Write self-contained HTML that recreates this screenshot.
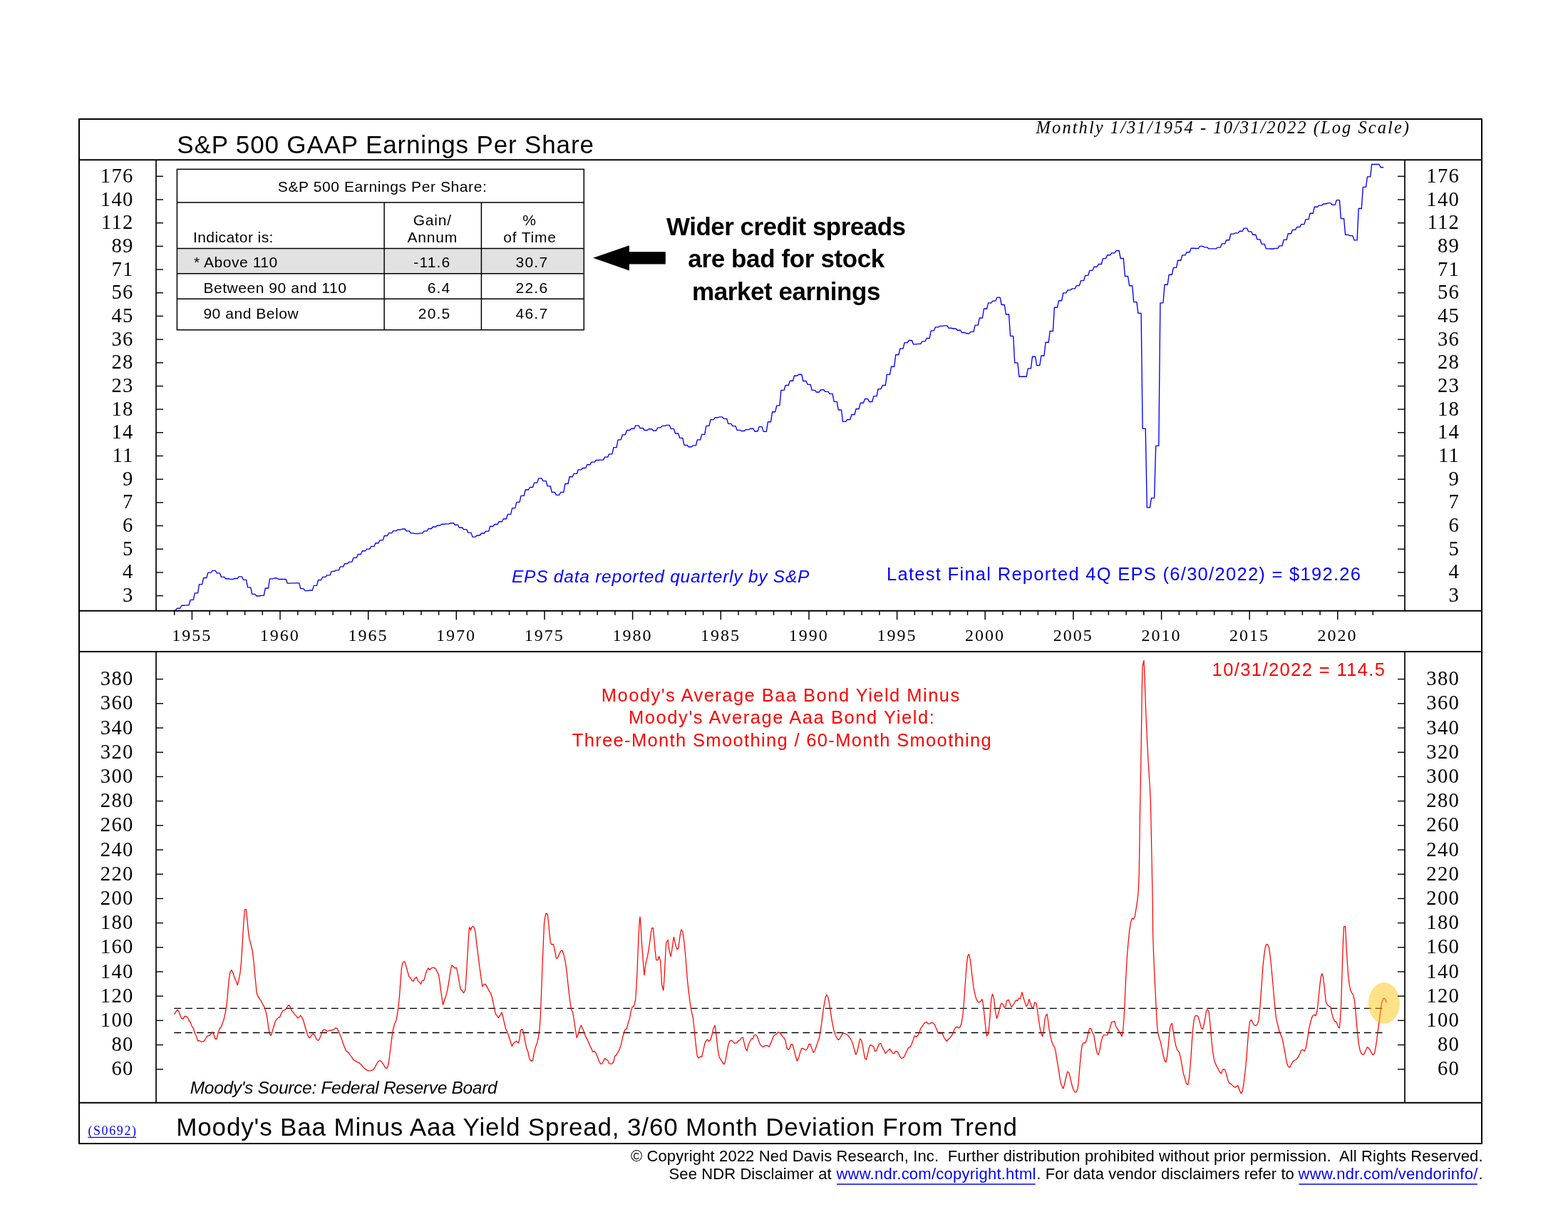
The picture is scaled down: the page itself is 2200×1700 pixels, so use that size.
<!DOCTYPE html>
<html lang="en"><head><meta charset="utf-8"><title>S&amp;P 500 GAAP Earnings Per Share vs Moody's Baa Minus Aaa Yield Spread</title>
<style>html,body{margin:0;padding:0;background:#fff}body{width:2200px;height:1700px;overflow:hidden}svg{display:block}text{white-space:pre}</style>
</head><body>
<svg width="2200" height="1700" viewBox="0 0 2200 1700">
<rect x="0" y="0" width="2200" height="1700" fill="#fff"/>
<path d="M244.4,856.0 L246.4,856.0 L248.6,853.2 L252.7,853.2 L254.8,849.2 L258.9,849.2 L261.0,848.8 L265.1,848.8 L267.2,841.4 L271.3,841.4 L273.3,831.9 L277.5,831.9 L279.5,819.6 L283.6,819.6 L285.7,810.5 L289.8,810.5 L291.9,803.1 L296.0,803.1 L298.1,800.4 L302.2,800.4 L304.3,803.9 L308.4,803.9 L310.4,809.3 L314.6,809.3 L316.6,811.7 L320.8,811.7 L322.8,812.3 L326.9,812.3 L329.0,811.5 L333.1,811.5 L335.2,808.9 L339.3,808.9 L341.4,813.3 L345.5,813.3 L347.6,823.8 L351.7,823.8 L353.7,833.3 L357.9,833.3 L359.9,836.0 L364.1,836.0 L366.1,835.4 L370.2,835.4 L372.3,825.0 L376.4,825.0 L378.5,811.9 L382.6,811.9 L384.7,811.0 L388.8,811.0 L390.9,812.5 L395.0,812.5 L397.0,812.5 L401.2,812.5 L403.2,818.1 L407.3,818.1 L409.4,817.9 L413.5,817.9 L415.6,817.9 L419.7,817.9 L421.8,825.6 L425.9,825.6 L428.0,828.6 L432.1,828.6 L434.1,828.0 L438.3,828.0 L440.3,821.4 L444.5,821.4 L446.5,813.5 L450.6,813.5 L452.7,809.3 L456.8,809.3 L458.9,806.8 L463.0,806.8 L465.1,801.4 L469.2,801.4 L471.3,799.8 L475.4,799.8 L477.4,794.9 L481.6,794.9 L483.6,790.5 L487.8,790.5 L489.8,788.1 L493.9,788.1 L496.0,782.4 L500.1,782.4 L502.2,777.5 L506.3,777.5 L508.4,772.7 L512.5,772.7 L514.6,770.1 L518.7,770.1 L520.7,766.4 L524.9,766.4 L526.9,761.7 L531.0,761.7 L533.1,757.6 L537.2,757.6 L539.3,751.5 L543.4,751.5 L545.5,747.6 L549.6,747.6 L551.7,744.6 L555.8,744.6 L557.9,743.0 L562.0,743.0 L564.0,742.0 L568.2,742.0 L570.2,744.8 L574.3,744.8 L576.4,747.9 L580.5,747.9 L582.6,748.6 L586.7,748.6 L588.8,747.9 L592.9,747.9 L595.0,744.8 L599.1,744.8 L601.1,741.5 L605.3,741.5 L607.3,739.0 L611.5,739.0 L613.5,737.0 L617.6,737.0 L619.7,735.2 L623.8,735.2 L625.9,734.9 L630.0,734.9 L632.1,733.7 L636.2,733.7 L638.3,736.2 L642.4,736.2 L644.4,740.0 L648.6,740.0 L650.6,742.6 L654.7,742.6 L656.8,747.1 L660.9,747.1 L663.0,753.1 L667.1,753.1 L669.2,751.0 L673.3,751.0 L675.4,748.0 L679.5,748.0 L681.5,745.1 L685.7,745.1 L687.7,738.2 L691.9,738.2 L693.9,735.5 L698.0,735.5 L700.1,731.7 L704.2,731.7 L706.3,727.7 L710.4,727.7 L712.5,721.3 L716.6,721.3 L718.7,712.6 L722.8,712.6 L724.8,704.3 L729.0,704.3 L731.0,695.4 L735.2,695.4 L737.2,687.0 L741.3,687.0 L743.4,683.5 L747.5,683.5 L749.6,677.1 L753.7,677.1 L755.8,670.8 L759.9,670.8 L762.0,674.6 L766.1,674.6 L768.1,681.8 L772.3,681.8 L774.3,690.5 L778.4,690.5 L780.5,694.3 L784.6,694.3 L786.7,690.5 L790.8,690.5 L792.9,678.5 L797.0,678.5 L799.1,668.7 L803.2,668.7 L805.2,664.3 L809.4,664.3 L811.4,658.8 L815.6,658.8 L817.6,656.5 L821.7,656.5 L823.8,651.7 L827.9,651.7 L830.0,648.1 L834.1,648.1 L836.2,645.5 L840.3,645.5 L842.4,645.1 L846.5,645.1 L848.5,641.1 L852.7,641.1 L854.7,636.9 L858.9,636.9 L860.9,627.6 L865.0,627.6 L867.1,616.9 L871.2,616.9 L873.3,609.8 L877.4,609.8 L879.5,603.5 L883.6,603.5 L885.7,601.2 L889.8,601.2 L891.8,596.9 L896.0,596.9 L898.0,600.5 L902.1,600.5 L904.2,603.5 L908.3,603.5 L910.4,601.7 L914.5,601.7 L916.6,604.0 L920.7,604.0 L922.8,599.9 L926.9,599.9 L928.9,597.3 L933.1,597.3 L935.1,596.3 L939.3,596.3 L941.3,601.4 L945.4,601.4 L947.5,608.0 L951.6,608.0 L953.7,614.3 L957.8,614.3 L959.9,624.3 L964.0,624.3 L966.1,626.7 L970.2,626.7 L972.2,624.9 L976.4,624.9 L978.4,616.9 L982.6,616.9 L984.6,609.4 L988.7,609.4 L990.8,597.3 L994.9,597.3 L997.0,588.6 L1001.1,588.6 L1003.2,585.7 L1007.3,585.7 L1009.4,584.9 L1013.5,584.9 L1015.5,587.3 L1019.7,587.3 L1021.7,594.4 L1025.8,594.4 L1027.9,597.6 L1032.0,597.6 L1034.1,603.3 L1038.2,603.3 L1040.3,604.5 L1044.4,604.5 L1046.5,602.6 L1050.6,602.6 L1052.6,601.2 L1056.8,601.2 L1058.8,605.0 L1063.0,605.0 L1065.0,598.6 L1069.1,598.6 L1071.2,605.4 L1075.3,605.4 L1077.4,591.7 L1081.5,591.7 L1083.6,577.7 L1087.7,577.7 L1089.8,568.8 L1093.9,568.8 L1095.9,547.4 L1100.1,547.4 L1102.1,540.5 L1106.3,540.5 L1108.3,534.2 L1112.4,534.2 L1114.5,527.0 L1118.6,527.0 L1120.7,525.2 L1124.8,525.2 L1126.9,534.5 L1131.0,534.5 L1133.1,539.3 L1137.2,539.3 L1139.2,547.3 L1143.4,547.3 L1145.4,550.0 L1149.5,550.0 L1151.6,546.7 L1155.7,546.7 L1157.8,549.4 L1161.9,549.4 L1164.0,552.4 L1168.1,552.4 L1170.2,563.3 L1174.3,563.3 L1176.3,575.0 L1180.5,575.0 L1182.5,591.3 L1186.7,591.3 L1188.7,588.5 L1192.8,588.5 L1194.9,581.5 L1199.0,581.5 L1201.1,573.5 L1205.2,573.5 L1207.3,565.2 L1211.4,565.2 L1213.5,559.5 L1217.6,559.5 L1219.6,563.5 L1223.8,563.5 L1225.8,555.6 L1230.0,555.6 L1232.0,545.6 L1236.1,545.6 L1238.2,540.5 L1242.3,540.5 L1244.4,525.4 L1248.5,525.4 L1250.6,514.2 L1254.7,514.2 L1256.8,497.5 L1260.9,497.5 L1262.9,488.9 L1267.1,488.9 L1269.1,480.6 L1273.2,480.6 L1275.3,477.5 L1279.4,477.5 L1281.5,482.9 L1285.6,482.9 L1287.7,482.4 L1291.8,482.4 L1293.9,478.8 L1298.0,478.8 L1300.0,474.5 L1304.2,474.5 L1306.2,463.8 L1310.4,463.8 L1312.4,458.8 L1316.5,458.8 L1318.6,457.4 L1322.7,457.4 L1324.8,456.8 L1328.9,456.8 L1331.0,460.2 L1335.1,460.2 L1337.2,461.0 L1341.3,461.0 L1343.3,463.2 L1347.5,463.2 L1349.5,466.5 L1353.7,466.5 L1355.7,467.7 L1359.8,467.7 L1361.9,465.4 L1366.0,465.4 L1368.1,456.1 L1372.2,456.1 L1374.3,446.0 L1378.4,446.0 L1380.5,433.0 L1384.6,433.0 L1386.6,424.9 L1390.8,424.9 L1392.8,422.1 L1396.9,422.1 L1399.0,417.1 L1403.1,417.1 L1405.2,427.5 L1409.3,427.5 L1411.4,441.0 L1415.5,441.0 L1417.6,471.3 L1421.7,471.3 L1423.7,508.8 L1427.9,508.8 L1429.9,528.2 L1434.1,528.2 L1436.1,528.2 L1440.2,528.2 L1442.3,516.9 L1446.4,516.9 L1448.5,500.2 L1452.6,500.2 L1454.7,512.6 L1458.8,512.6 L1460.9,499.0 L1465.0,499.0 L1467.0,480.2 L1471.2,480.2 L1473.2,464.5 L1477.4,464.5 L1479.4,431.2 L1483.5,431.2 L1485.6,421.7 L1489.7,421.7 L1491.8,410.8 L1495.9,410.8 L1498.0,406.8 L1502.1,406.8 L1504.2,404.8 L1508.3,404.8 L1510.3,400.6 L1514.5,400.6 L1516.5,393.6 L1520.6,393.6 L1522.7,386.4 L1526.8,386.4 L1528.9,379.3 L1533.0,379.3 L1535.1,374.2 L1539.2,374.2 L1541.3,370.5 L1545.4,370.5 L1547.4,362.6 L1551.6,362.6 L1553.6,357.7 L1557.8,357.7 L1559.8,354.8 L1563.9,354.8 L1566.0,351.5 L1570.1,351.5 L1572.2,362.5 L1576.3,362.5 L1578.4,387.5 L1582.5,387.5 L1584.6,400.7 L1588.7,400.7 L1590.7,423.6 L1594.9,423.6 L1596.9,439.4 L1601.1,439.4 L1603.1,601.1 L1607.2,601.1 L1609.3,711.8 L1613.4,711.8 L1615.5,698.6 L1619.6,698.6 L1621.7,625.3 L1625.8,625.3 L1627.9,424.8 L1632.0,424.8 L1634.0,399.2 L1638.2,399.2 L1640.2,385.2 L1644.3,385.2 L1646.4,375.4 L1650.5,375.4 L1652.6,365.2 L1656.7,365.2 L1658.8,357.9 L1662.9,357.9 L1665.0,353.7 L1669.1,353.7 L1671.1,348.2 L1675.3,348.2 L1677.3,348.5 L1681.5,348.5 L1683.5,345.4 L1687.6,345.4 L1689.7,346.8 L1693.8,346.8 L1695.9,348.9 L1700.0,348.9 L1702.1,348.9 L1706.2,348.9 L1708.3,347.1 L1712.4,347.1 L1714.4,341.8 L1718.6,341.8 L1720.6,336.7 L1724.8,336.7 L1726.8,328.1 L1730.9,328.1 L1733.0,326.9 L1737.1,326.9 L1739.2,324.2 L1743.3,324.2 L1745.4,320.1 L1749.5,320.1 L1751.6,324.8 L1755.7,324.8 L1757.7,329.2 L1761.9,329.2 L1763.9,335.8 L1768.0,335.8 L1770.1,342.4 L1774.2,342.4 L1776.3,348.8 L1780.4,348.8 L1782.5,349.0 L1786.6,349.0 L1788.7,348.3 L1792.8,348.3 L1794.8,344.8 L1799.0,344.8 L1801.0,336.4 L1805.2,336.4 L1807.2,327.7 L1811.3,327.7 L1813.4,322.4 L1817.5,322.4 L1819.6,318.5 L1823.7,318.5 L1825.8,314.6 L1829.9,314.6 L1832.0,307.6 L1836.1,307.6 L1838.1,299.2 L1842.3,299.2 L1844.3,290.2 L1848.5,290.2 L1850.5,288.1 L1854.6,288.1 L1856.7,286.0 L1860.8,286.0 L1862.9,284.8 L1867.0,284.8 L1869.1,287.4 L1873.2,287.4 L1875.3,280.6 L1879.4,280.6 L1881.4,306.6 L1885.6,306.6 L1887.6,329.3 L1891.7,329.3 L1893.8,330.6 L1897.9,330.6 L1900.0,336.9 L1904.1,336.9 L1906.2,292.5 L1910.3,292.5 L1912.4,262.3 L1916.5,262.3 L1918.5,247.9 L1922.7,247.9 L1924.7,230.5 L1928.9,230.5 L1930.9,230.5 L1935.0,230.5 L1937.1,234.7 L1941.2,234.7" fill="none" stroke="#0000ff" stroke-width="1.35" stroke-linejoin="round"/>
<line x1="244.3" y1="1414.4" x2="1939.6" y2="1414.4" stroke="#000" stroke-width="1.3" stroke-dasharray="9.85 5.901"/>
<line x1="244.3" y1="1448.5" x2="1939.6" y2="1448.5" stroke="#000" stroke-width="1.3" stroke-dasharray="9.85 5.901"/>
<path d="M244.4,1422.9 L246.8,1419.2 L248.9,1416.5 L250.6,1418.2 L252.5,1423.3 L254.6,1428.7 L257.0,1429.1 L258.8,1425.6 L260.7,1425.3 L263.2,1427.0 L265.2,1431.5 L267.3,1434.2 L269.3,1439.6 L271.3,1442.0 L273.4,1449.2 L275.7,1453.9 L277.5,1460.1 L279.5,1459.4 L281.6,1460.8 L283.9,1461.3 L285.9,1460.5 L288.0,1457.8 L290.1,1453.9 L292.5,1452.6 L294.5,1451.9 L296.5,1449.6 L298.3,1447.5 L300.0,1451.2 L302.0,1457.4 L304.0,1457.4 L306.1,1448.5 L308.1,1443.0 L310.2,1440.7 L312.2,1435.6 L314.5,1428.1 L316.3,1419.9 L317.7,1411.7 L319.0,1399.4 L320.4,1383.1 L321.3,1373.6 L322.7,1364.0 L324.8,1360.6 L326.8,1364.0 L328.8,1370.8 L331.0,1375.6 L333.1,1381.7 L335.0,1374.9 L337.0,1364.0 L338.4,1350.4 L340.1,1323.1 L341.5,1300.0 L343.3,1275.7 L345.3,1275.5 L346.7,1287.7 L348.3,1305.4 L349.7,1316.3 L352.0,1324.5 L354.2,1334.0 L356.1,1350.4 L357.9,1369.5 L359.5,1385.8 L359.9,1392.0 L362.0,1397.4 L364.0,1401.1 L366.0,1403.3 L368.1,1407.6 L370.8,1412.4 L372.9,1418.5 L374.9,1428.1 L376.9,1442.4 L378.3,1450.5 L380.3,1452.3 L382.4,1445.8 L384.4,1439.0 L386.5,1432.1 L388.5,1429.4 L390.6,1427.4 L392.6,1426.4 L394.7,1421.2 L397.0,1417.4 L399.4,1416.5 L401.5,1414.7 L403.5,1411.7 L405.3,1409.7 L407.2,1412.4 L409.2,1417.8 L411.3,1419.6 L413.3,1422.6 L415.8,1425.1 L417.8,1428.1 L419.9,1426.4 L421.6,1424.4 L423.5,1426.4 L425.6,1431.5 L427.8,1439.0 L429.8,1445.8 L431.9,1452.6 L433.8,1455.6 L435.5,1455.0 L437.6,1451.2 L439.6,1449.9 L441.7,1452.6 L443.7,1456.9 L445.8,1459.4 L447.4,1458.7 L449.4,1454.6 L451.2,1449.9 L452.6,1445.8 L454.6,1444.1 L456.7,1444.7 L458.7,1446.5 L460.7,1446.0 L462.8,1445.1 L464.8,1445.4 L466.9,1444.7 L468.9,1443.7 L471.2,1441.7 L473.3,1443.0 L475.3,1447.1 L477.4,1451.9 L479.4,1457.4 L481.4,1463.5 L483.5,1468.9 L485.5,1473.7 L487.6,1475.5 L489.6,1477.1 L491.7,1480.5 L493.7,1483.2 L495.8,1486.4 L497.2,1487.2 L500.4,1489.1 L504.4,1491.1 L507.6,1494.3 L510.8,1497.9 L514.0,1500.6 L517.2,1501.9 L520.4,1501.6 L523.6,1500.3 L526.0,1497.1 L528.4,1492.3 L530.8,1488.8 L532.9,1487.5 L535.3,1489.1 L538.0,1493.1 L541.2,1498.4 L543.6,1497.9 L545.2,1491.5 L546.8,1479.5 L548.4,1466.7 L550.0,1453.9 L551.6,1443.5 L553.5,1436.3 L555.3,1433.2 L557.2,1424.4 L559.1,1410.8 L560.7,1394.8 L562.0,1375.6 L563.3,1358.8 L564.9,1350.8 L566.5,1348.9 L568.1,1349.2 L569.7,1354.8 L571.6,1362.0 L574.0,1370.0 L575.6,1371.1 L577.7,1374.8 L579.9,1376.4 L582.0,1372.4 L584.4,1370.4 L586.3,1375.6 L588.4,1377.5 L590.4,1380.4 L592.4,1375.6 L594.8,1375.2 L596.8,1367.6 L598.8,1361.5 L600.8,1357.7 L602.8,1360.4 L605.2,1358.0 L607.9,1357.2 L611.1,1358.3 L613.2,1362.8 L615.6,1367.6 L616.8,1375.6 L618.4,1388.4 L620.0,1399.6 L621.6,1409.2 L623.6,1402.8 L625.6,1397.2 L627.6,1389.2 L629.5,1378.8 L631.2,1367.6 L632.8,1358.0 L634.0,1354.0 L636.4,1356.1 L638.4,1358.0 L640.0,1356.9 L641.6,1362.0 L643.2,1370.8 L644.8,1380.4 L646.4,1388.0 L648.4,1389.2 L650.4,1392.8 L652.7,1389.2 L653.5,1380.4 L654.7,1361.2 L656.0,1338.8 L657.3,1316.4 L658.4,1301.2 L659.5,1301.2 L660.3,1304.9 L661.9,1300.7 L663.5,1299.1 L665.1,1300.7 L667.1,1308.4 L668.3,1319.6 L669.9,1332.4 L671.5,1345.2 L673.1,1358.0 L674.7,1369.2 L676.7,1383.6 L678.7,1380.8 L681.1,1380.4 L683.2,1383.9 L685.9,1389.2 L688.3,1392.8 L689.9,1397.2 L691.9,1406.0 L693.6,1414.8 L695.5,1422.4 L697.1,1424.4 L699.5,1427.6 L701.9,1423.6 L703.9,1420.0 L705.6,1425.2 L707.5,1434.7 L709.5,1442.7 L711.5,1446.7 L713.5,1452.3 L715.5,1458.7 L718.4,1467.5 L720.3,1463.2 L722.7,1461.6 L724.8,1460.3 L727.0,1463.2 L728.8,1458.7 L730.4,1445.1 L732.8,1443.5 L734.7,1449.1 L736.8,1461.1 L738.7,1469.9 L740.8,1475.2 L741.9,1481.1 L743.2,1485.9 L745.6,1488.3 L747.5,1487.5 L749.1,1477.9 L751.2,1469.1 L753.6,1462.7 L755.5,1454.7 L757.1,1442.7 L758.4,1423.6 L759.2,1402.8 L760.3,1374.0 L761.3,1346.8 L762.4,1322.8 L763.5,1295.6 L764.8,1286.0 L766.1,1280.9 L768.3,1282.5 L769.6,1294.0 L770.9,1308.4 L772.3,1322.0 L773.9,1324.9 L776.5,1324.4 L778.4,1333.2 L780.5,1344.1 L782.4,1343.6 L784.8,1338.0 L786.9,1333.7 L788.8,1333.2 L790.9,1338.8 L793.1,1348.4 L795.2,1362.8 L796.8,1378.8 L798.4,1393.2 L800.0,1406.0 L801.6,1416.4 L803.5,1419.6 L805.3,1430.0 L807.2,1443.5 L809.3,1455.5 L811.2,1450.7 L813.3,1442.7 L815.5,1438.3 L817.3,1442.7 L819.5,1447.5 L821.6,1453.9 L824.0,1457.9 L826.4,1463.5 L828.8,1469.1 L832.0,1475.5 L834.1,1474.4 L836.5,1477.9 L838.8,1483.5 L840.8,1489.5 L842.8,1492.3 L845.1,1491.5 L846.8,1487.9 L848.8,1484.3 L850.4,1486.3 L852.4,1486.7 L854.4,1491.1 L856.4,1492.3 L858.8,1492.0 L860.8,1489.5 L862.8,1481.1 L864.8,1479.9 L867.2,1475.5 L869.2,1471.9 L871.2,1465.9 L873.1,1457.1 L874.8,1450.7 L876.8,1444.3 L879.2,1443.1 L881.2,1435.5 L883.5,1428.4 L885.2,1418.8 L887.2,1412.4 L889.6,1411.1 L891.6,1402.0 L892.8,1385.2 L893.9,1366.0 L894.8,1342.0 L896.0,1313.2 L897.1,1294.0 L898.0,1286.0 L899.2,1300.4 L900.4,1322.8 L901.9,1342.0 L903.2,1359.6 L904.0,1367.6 L905.5,1354.8 L907.1,1346.8 L908.7,1340.4 L910.3,1330.8 L911.9,1319.6 L913.5,1308.4 L914.7,1301.5 L916.4,1301.5 L917.5,1313.2 L919.1,1332.4 L920.7,1346.5 L923.1,1346.5 L924.7,1341.5 L926.7,1348.4 L927.6,1362.8 L928.7,1382.0 L930.8,1389.2 L931.9,1374.0 L933.1,1350.0 L934.0,1332.4 L934.8,1322.0 L937.1,1318.5 L938.3,1329.2 L939.6,1335.6 L941.2,1341.5 L942.8,1332.4 L944.3,1321.2 L945.5,1314.3 L946.8,1321.2 L948.4,1327.6 L950.0,1331.6 L951.9,1330.0 L953.2,1319.6 L954.3,1310.8 L955.9,1303.9 L958.0,1307.1 L959.5,1318.0 L961.2,1334.0 L962.8,1353.2 L964.4,1374.0 L966.3,1391.6 L968.4,1407.6 L970.3,1418.8 L972.4,1428.4 L974.0,1442.7 L975.6,1458.7 L977.2,1473.1 L978.3,1481.5 L980.4,1484.0 L982.6,1481.9 L984.7,1482.4 L986.8,1473.1 L988.7,1464.3 L990.0,1461.1 L992.4,1457.9 L994.5,1460.3 L996.7,1458.7 L998.8,1452.3 L1000.9,1442.7 L1003.1,1438.3 L1004.4,1447.5 L1006.0,1461.9 L1007.6,1474.7 L1009.2,1482.7 L1011.6,1486.7 L1014.0,1490.4 L1015.6,1492.8 L1017.2,1490.4 L1018.8,1482.7 L1020.4,1473.1 L1022.0,1465.1 L1023.9,1460.0 L1026.0,1459.2 L1027.9,1460.3 L1030.0,1463.2 L1032.4,1463.2 L1034.5,1461.9 L1036.4,1459.5 L1038.5,1458.7 L1040.4,1455.5 L1042.3,1455.1 L1043.9,1461.9 L1046.0,1470.7 L1048.1,1473.9 L1050.0,1465.9 L1052.4,1460.3 L1054.5,1456.7 L1056.4,1457.1 L1058.0,1452.3 L1059.9,1451.2 L1062.0,1453.1 L1063.6,1457.1 L1065.2,1461.9 L1067.1,1465.9 L1069.2,1467.9 L1071.3,1468.3 L1073.2,1466.7 L1075.6,1466.4 L1077.5,1467.1 L1079.3,1468.3 L1081.2,1463.5 L1083.3,1458.7 L1085.5,1452.7 L1087.9,1451.5 L1090.0,1449.9 L1091.9,1447.5 L1094.0,1449.1 L1095.9,1450.7 L1098.0,1453.9 L1100.0,1455.9 L1102.0,1459.5 L1103.9,1469.9 L1106.0,1472.3 L1107.9,1470.7 L1110.0,1464.8 L1111.9,1464.7 L1114.0,1472.3 L1116.0,1480.3 L1118.4,1488.3 L1120.4,1484.3 L1122.4,1477.1 L1124.7,1470.3 L1126.8,1470.7 L1128.8,1472.0 L1130.8,1473.1 L1132.8,1470.7 L1134.8,1464.7 L1136.8,1464.3 L1138.8,1469.9 L1141.2,1476.3 L1143.1,1474.4 L1145.2,1468.3 L1147.6,1461.1 L1149.5,1455.5 L1151.2,1445.9 L1153.2,1431.6 L1155.1,1417.2 L1157.1,1404.4 L1158.7,1397.2 L1159.9,1395.2 L1161.5,1398.0 L1163.5,1406.8 L1165.5,1420.4 L1167.5,1433.2 L1169.9,1445.1 L1172.3,1452.3 L1174.4,1456.3 L1176.3,1458.7 L1178.4,1456.8 L1180.3,1453.1 L1182.7,1449.1 L1185.1,1449.5 L1187.5,1450.7 L1189.9,1452.3 L1192.3,1455.5 L1194.7,1459.5 L1196.8,1465.1 L1198.7,1472.3 L1200.8,1479.2 L1202.7,1475.5 L1204.7,1465.9 L1206.7,1457.1 L1208.7,1459.1 L1210.4,1466.7 L1212.0,1476.3 L1213.5,1484.3 L1215.5,1486.3 L1217.1,1479.5 L1219.2,1469.9 L1221.4,1465.5 L1223.5,1466.7 L1225.6,1467.9 L1227.5,1474.4 L1229.6,1473.9 L1231.5,1469.1 L1233.6,1463.9 L1235.8,1463.5 L1237.9,1469.1 L1240.0,1472.3 L1242.1,1477.6 L1244.3,1475.2 L1246.4,1473.1 L1248.5,1471.2 L1250.4,1474.4 L1252.5,1477.1 L1254.4,1477.6 L1256.5,1474.4 L1258.7,1474.7 L1260.8,1477.9 L1262.9,1482.4 L1264.8,1484.7 L1266.9,1483.5 L1269.1,1481.6 L1271.2,1476.3 L1273.3,1471.9 L1275.2,1469.1 L1277.3,1468.3 L1279.2,1464.3 L1281.3,1458.4 L1283.2,1452.8 L1285.6,1454.3 L1288.0,1452.0 L1289.9,1448.3 L1291.7,1442.4 L1293.9,1439.9 L1296.0,1436.3 L1298.1,1434.0 L1300.0,1433.5 L1301.9,1435.5 L1304.0,1436.3 L1306.1,1434.7 L1308.0,1434.3 L1309.9,1435.5 L1312.0,1438.7 L1314.1,1443.5 L1316.3,1448.8 L1318.4,1449.5 L1320.5,1449.1 L1322.4,1449.9 L1324.3,1454.7 L1326.4,1458.3 L1328.5,1460.3 L1330.7,1457.5 L1332.8,1455.9 L1334.9,1453.1 L1337.1,1449.1 L1339.2,1443.5 L1341.2,1440.7 L1343.2,1440.3 L1345.2,1441.9 L1347.2,1440.3 L1349.1,1434.7 L1350.7,1425.2 L1352.0,1412.4 L1353.2,1394.8 L1354.4,1378.8 L1355.5,1362.8 L1356.8,1348.4 L1357.9,1340.7 L1359.6,1338.5 L1361.1,1345.2 L1362.4,1354.8 L1363.6,1366.0 L1364.8,1375.6 L1365.9,1384.4 L1367.2,1390.8 L1368.4,1396.4 L1369.9,1401.5 L1371.5,1404.4 L1373.6,1406.0 L1375.6,1404.8 L1377.9,1401.5 L1379.2,1407.6 L1380.4,1417.2 L1381.9,1431.6 L1383.2,1444.3 L1384.4,1453.1 L1386.4,1450.7 L1387.5,1442.7 L1388.8,1428.4 L1389.9,1412.4 L1390.8,1401.2 L1392.4,1394.4 L1394.4,1399.6 L1395.5,1409.2 L1396.8,1420.4 L1398.7,1428.4 L1400.4,1422.8 L1402.4,1415.6 L1404.0,1409.2 L1405.2,1407.1 L1407.1,1408.4 L1409.1,1413.2 L1410.8,1411.6 L1412.7,1403.6 L1415.1,1402.4 L1417.1,1407.6 L1419.1,1412.4 L1421.2,1410.3 L1423.5,1406.3 L1425.5,1402.8 L1427.6,1403.6 L1429.5,1400.0 L1431.6,1400.8 L1434.0,1391.6 L1435.5,1398.0 L1437.5,1404.4 L1439.9,1411.6 L1441.9,1409.2 L1443.9,1401.5 L1445.9,1407.6 L1447.9,1413.2 L1450.0,1413.2 L1451.9,1406.0 L1453.9,1406.8 L1455.1,1414.0 L1456.4,1423.6 L1458.0,1434.7 L1459.6,1444.3 L1461.2,1450.7 L1462.8,1453.6 L1464.4,1444.3 L1466.0,1430.0 L1467.1,1425.2 L1469.1,1422.3 L1470.3,1430.0 L1471.9,1442.7 L1473.5,1452.3 L1475.6,1460.3 L1477.5,1465.9 L1479.4,1468.3 L1481.0,1473.9 L1482.6,1484.3 L1484.2,1493.9 L1485.8,1503.5 L1487.4,1514.7 L1489.0,1521.1 L1491.6,1527.0 L1493.5,1521.1 L1495.6,1511.5 L1497.7,1503.2 L1499.6,1504.3 L1501.2,1509.9 L1502.8,1517.1 L1504.4,1523.5 L1506.0,1528.3 L1508.1,1532.0 L1510.0,1531.8 L1511.9,1527.5 L1513.2,1517.9 L1514.5,1501.9 L1515.9,1485.9 L1517.2,1473.1 L1518.5,1464.8 L1520.4,1462.7 L1522.5,1463.1 L1524.7,1458.7 L1526.5,1450.7 L1528.4,1443.1 L1530.5,1442.4 L1532.4,1447.5 L1534.8,1452.3 L1536.4,1461.9 L1538.0,1471.5 L1539.6,1477.6 L1541.2,1479.2 L1543.1,1472.3 L1544.9,1461.9 L1546.8,1454.7 L1548.9,1451.5 L1551.1,1451.9 L1553.5,1452.0 L1555.6,1447.5 L1557.7,1441.1 L1559.6,1433.5 L1562.0,1433.2 L1563.9,1432.4 L1565.5,1439.5 L1567.6,1442.7 L1569.5,1445.9 L1571.6,1449.1 L1574.0,1453.6 L1575.6,1445.9 L1577.2,1425.2 L1578.3,1401.2 L1579.3,1378.8 L1580.4,1358.0 L1581.7,1337.2 L1583.1,1321.2 L1584.7,1305.2 L1586.5,1294.0 L1588.4,1287.9 L1590.4,1289.2 L1592.7,1284.4 L1592.9,1281.6 L1594.4,1272.7 L1596.0,1261.6 L1597.3,1248.2 L1598.2,1226.0 L1598.9,1181.6 L1599.5,1137.2 L1600.4,1092.7 L1601.1,1048.3 L1601.8,1003.9 L1602.2,970.5 L1602.9,935.0 L1604.9,926.6 L1606.0,948.3 L1607.1,981.6 L1608.4,1015.0 L1610.0,1048.3 L1611.5,1075.0 L1613.3,1103.8 L1614.4,1126.1 L1615.1,1159.4 L1616.0,1203.8 L1616.6,1237.1 L1617.3,1270.5 L1617.6,1310.0 L1618.4,1334.0 L1619.2,1353.2 L1620.0,1372.4 L1621.2,1393.2 L1622.0,1410.8 L1622.8,1426.8 L1623.6,1439.5 L1624.8,1449.1 L1626.3,1455.5 L1628.4,1461.9 L1630.3,1471.5 L1632.0,1479.5 L1634.0,1487.5 L1635.9,1489.9 L1637.5,1482.7 L1639.1,1468.3 L1640.4,1453.9 L1641.6,1441.1 L1642.8,1437.1 L1644.4,1435.5 L1645.5,1442.7 L1646.8,1450.7 L1648.4,1460.3 L1650.0,1467.5 L1652.0,1473.1 L1654.3,1475.5 L1656.3,1482.7 L1658.3,1493.9 L1660.3,1505.1 L1662.4,1512.3 L1664.7,1520.3 L1666.7,1521.4 L1668.3,1513.1 L1669.6,1500.3 L1671.1,1481.1 L1672.3,1461.9 L1673.6,1444.3 L1675.1,1431.6 L1676.7,1425.2 L1678.4,1424.4 L1680.7,1425.2 L1682.4,1430.0 L1684.0,1436.3 L1685.5,1441.9 L1687.5,1443.5 L1689.1,1437.1 L1691.1,1426.8 L1692.8,1417.2 L1694.4,1416.0 L1696.0,1418.8 L1697.5,1431.6 L1698.7,1445.9 L1700.0,1460.3 L1701.5,1474.7 L1703.1,1484.3 L1704.8,1490.7 L1707.1,1495.5 L1709.1,1499.1 L1711.2,1503.5 L1713.5,1505.9 L1715.2,1501.1 L1717.1,1499.5 L1719.1,1501.1 L1721.1,1508.3 L1723.0,1515.5 L1724.8,1519.2 L1727.0,1520.3 L1729.1,1522.4 L1731.2,1524.3 L1733.1,1525.4 L1735.2,1523.5 L1737.1,1522.7 L1739.0,1529.1 L1741.3,1533.6 L1743.2,1530.7 L1744.8,1521.1 L1746.7,1506.7 L1748.0,1493.9 L1749.1,1481.1 L1750.1,1468.3 L1751.2,1453.9 L1752.3,1442.7 L1753.6,1433.2 L1755.5,1430.4 L1757.3,1433.2 L1759.5,1437.9 L1761.6,1438.7 L1763.7,1437.5 L1765.9,1431.6 L1767.2,1420.4 L1768.5,1404.4 L1769.6,1388.4 L1770.9,1370.8 L1772.0,1354.8 L1773.6,1340.4 L1775.2,1329.2 L1776.5,1325.2 L1778.4,1324.4 L1780.3,1328.4 L1781.9,1338.8 L1783.5,1353.2 L1784.8,1367.6 L1786.1,1382.0 L1787.5,1398.0 L1788.8,1412.4 L1790.4,1427.6 L1792.5,1436.3 L1794.7,1445.9 L1796.8,1450.7 L1798.9,1456.3 L1800.8,1465.1 L1802.9,1476.3 L1804.5,1485.9 L1806.1,1493.1 L1808.0,1496.8 L1809.6,1497.1 L1811.7,1493.1 L1813.6,1489.5 L1816.0,1487.2 L1818.1,1486.3 L1820.0,1485.1 L1822.1,1481.1 L1824.0,1477.5 L1825.9,1472.8 L1828.0,1472.3 L1830.1,1474.3 L1832.0,1470.7 L1833.6,1462.7 L1835.2,1452.3 L1836.8,1441.9 L1838.7,1434.0 L1840.4,1427.6 L1842.4,1424.0 L1844.3,1423.6 L1846.0,1424.8 L1848.0,1418.0 L1849.2,1407.6 L1850.7,1393.2 L1852.0,1380.4 L1853.2,1370.8 L1854.7,1365.7 L1856.4,1370.0 L1857.9,1382.0 L1859.2,1394.8 L1860.4,1405.2 L1862.4,1409.5 L1864.8,1411.6 L1867.2,1412.8 L1868.4,1420.4 L1870.4,1427.6 L1872.4,1432.4 L1874.7,1433.2 L1876.3,1437.1 L1877.9,1441.1 L1879.5,1441.9 L1880.4,1430.0 L1881.6,1410.8 L1882.4,1385.2 L1883.2,1359.6 L1884.0,1334.0 L1884.8,1313.2 L1885.6,1299.6 L1887.5,1299.6 L1888.3,1313.2 L1889.2,1330.8 L1890.4,1350.0 L1891.6,1367.6 L1893.1,1380.4 L1894.7,1388.4 L1896.4,1392.4 L1898.4,1394.8 L1900.4,1402.8 L1901.6,1414.0 L1902.8,1428.4 L1904.3,1444.3 L1905.5,1457.1 L1906.8,1466.7 L1908.4,1473.9 L1910.3,1477.9 L1912.4,1479.2 L1914.3,1477.9 L1916.4,1472.8 L1918.3,1468.7 L1920.3,1469.9 L1922.3,1472.8 L1924.4,1477.1 L1926.3,1479.5 L1928.4,1477.6 L1930.3,1468.3 L1931.9,1457.1 L1933.5,1444.3 L1935.1,1433.2 L1936.4,1422.0 L1937.9,1410.8 L1939.1,1404.4 L1940.7,1400.8 L1942.3,1400.4 L1943.9,1402.0 L1945.2,1406.3" fill="none" stroke="#ff0000" stroke-width="1.25" stroke-linejoin="round"/>
<ellipse cx="1941.9" cy="1407.1" rx="22" ry="29" fill="#ffc000" fill-opacity="0.47"/>
<rect x="111" y="167" width="1968" height="1437" fill="none" stroke="#000" stroke-width="2" stroke-linejoin="round"/>
<line x1="111" y1="224.3" x2="2079" y2="224.3" stroke="#000" stroke-width="2" />
<line x1="111" y1="856.8" x2="2079" y2="856.8" stroke="#000" stroke-width="2" />
<line x1="111" y1="914.0" x2="2079" y2="914.0" stroke="#000" stroke-width="2" />
<line x1="111" y1="1546.8" x2="2079" y2="1546.8" stroke="#000" stroke-width="2" />
<line x1="219" y1="224.3" x2="219" y2="856.8" stroke="#000" stroke-width="1.7" />
<line x1="219" y1="914.0" x2="219" y2="1546.8" stroke="#000" stroke-width="1.7" />
<line x1="1971" y1="224.3" x2="1971" y2="856.8" stroke="#000" stroke-width="1.7" />
<line x1="1971" y1="914.0" x2="1971" y2="1546.8" stroke="#000" stroke-width="1.7" />
<line x1="219" y1="247.3" x2="229" y2="247.3" stroke="#000" stroke-width="1.4" />
<line x1="1961" y1="247.3" x2="1971" y2="247.3" stroke="#000" stroke-width="1.4" />
<text x="187.5" y="255.8" font-size="28.7" font-family='"Liberation Serif", "Times New Roman", Times, serif' fill="#000" text-anchor="end" letter-spacing="1.2" >176</text>
<text x="2048.0" y="255.8" font-size="28.7" font-family='"Liberation Serif", "Times New Roman", Times, serif' fill="#000" text-anchor="end" letter-spacing="1.2" >176</text>
<line x1="219" y1="280.0" x2="229" y2="280.0" stroke="#000" stroke-width="1.4" />
<line x1="1961" y1="280.0" x2="1971" y2="280.0" stroke="#000" stroke-width="1.4" />
<text x="187.5" y="288.5" font-size="28.7" font-family='"Liberation Serif", "Times New Roman", Times, serif' fill="#000" text-anchor="end" letter-spacing="1.2" >140</text>
<text x="2048.0" y="288.5" font-size="28.7" font-family='"Liberation Serif", "Times New Roman", Times, serif' fill="#000" text-anchor="end" letter-spacing="1.2" >140</text>
<line x1="219" y1="312.7" x2="229" y2="312.7" stroke="#000" stroke-width="1.4" />
<line x1="1961" y1="312.7" x2="1971" y2="312.7" stroke="#000" stroke-width="1.4" />
<text x="187.5" y="321.2" font-size="28.7" font-family='"Liberation Serif", "Times New Roman", Times, serif' fill="#000" text-anchor="end" letter-spacing="1.2" >112</text>
<text x="2048.0" y="321.2" font-size="28.7" font-family='"Liberation Serif", "Times New Roman", Times, serif' fill="#000" text-anchor="end" letter-spacing="1.2" >112</text>
<line x1="219" y1="345.4" x2="229" y2="345.4" stroke="#000" stroke-width="1.4" />
<line x1="1961" y1="345.4" x2="1971" y2="345.4" stroke="#000" stroke-width="1.4" />
<text x="187.5" y="353.9" font-size="28.7" font-family='"Liberation Serif", "Times New Roman", Times, serif' fill="#000" text-anchor="end" letter-spacing="1.2" >89</text>
<text x="2048.0" y="353.9" font-size="28.7" font-family='"Liberation Serif", "Times New Roman", Times, serif' fill="#000" text-anchor="end" letter-spacing="1.2" >89</text>
<line x1="219" y1="378.0" x2="229" y2="378.0" stroke="#000" stroke-width="1.4" />
<line x1="1961" y1="378.0" x2="1971" y2="378.0" stroke="#000" stroke-width="1.4" />
<text x="187.5" y="386.5" font-size="28.7" font-family='"Liberation Serif", "Times New Roman", Times, serif' fill="#000" text-anchor="end" letter-spacing="1.2" >71</text>
<text x="2048.0" y="386.5" font-size="28.7" font-family='"Liberation Serif", "Times New Roman", Times, serif' fill="#000" text-anchor="end" letter-spacing="1.2" >71</text>
<line x1="219" y1="410.7" x2="229" y2="410.7" stroke="#000" stroke-width="1.4" />
<line x1="1961" y1="410.7" x2="1971" y2="410.7" stroke="#000" stroke-width="1.4" />
<text x="187.5" y="419.2" font-size="28.7" font-family='"Liberation Serif", "Times New Roman", Times, serif' fill="#000" text-anchor="end" letter-spacing="1.2" >56</text>
<text x="2048.0" y="419.2" font-size="28.7" font-family='"Liberation Serif", "Times New Roman", Times, serif' fill="#000" text-anchor="end" letter-spacing="1.2" >56</text>
<line x1="219" y1="443.4" x2="229" y2="443.4" stroke="#000" stroke-width="1.4" />
<line x1="1961" y1="443.4" x2="1971" y2="443.4" stroke="#000" stroke-width="1.4" />
<text x="187.5" y="451.9" font-size="28.7" font-family='"Liberation Serif", "Times New Roman", Times, serif' fill="#000" text-anchor="end" letter-spacing="1.2" >45</text>
<text x="2048.0" y="451.9" font-size="28.7" font-family='"Liberation Serif", "Times New Roman", Times, serif' fill="#000" text-anchor="end" letter-spacing="1.2" >45</text>
<line x1="219" y1="476.1" x2="229" y2="476.1" stroke="#000" stroke-width="1.4" />
<line x1="1961" y1="476.1" x2="1971" y2="476.1" stroke="#000" stroke-width="1.4" />
<text x="187.5" y="484.6" font-size="28.7" font-family='"Liberation Serif", "Times New Roman", Times, serif' fill="#000" text-anchor="end" letter-spacing="1.2" >36</text>
<text x="2048.0" y="484.6" font-size="28.7" font-family='"Liberation Serif", "Times New Roman", Times, serif' fill="#000" text-anchor="end" letter-spacing="1.2" >36</text>
<line x1="219" y1="508.8" x2="229" y2="508.8" stroke="#000" stroke-width="1.4" />
<line x1="1961" y1="508.8" x2="1971" y2="508.8" stroke="#000" stroke-width="1.4" />
<text x="187.5" y="517.3" font-size="28.7" font-family='"Liberation Serif", "Times New Roman", Times, serif' fill="#000" text-anchor="end" letter-spacing="1.2" >28</text>
<text x="2048.0" y="517.3" font-size="28.7" font-family='"Liberation Serif", "Times New Roman", Times, serif' fill="#000" text-anchor="end" letter-spacing="1.2" >28</text>
<line x1="219" y1="541.5" x2="229" y2="541.5" stroke="#000" stroke-width="1.4" />
<line x1="1961" y1="541.5" x2="1971" y2="541.5" stroke="#000" stroke-width="1.4" />
<text x="187.5" y="550.0" font-size="28.7" font-family='"Liberation Serif", "Times New Roman", Times, serif' fill="#000" text-anchor="end" letter-spacing="1.2" >23</text>
<text x="2048.0" y="550.0" font-size="28.7" font-family='"Liberation Serif", "Times New Roman", Times, serif' fill="#000" text-anchor="end" letter-spacing="1.2" >23</text>
<line x1="219" y1="574.1" x2="229" y2="574.1" stroke="#000" stroke-width="1.4" />
<line x1="1961" y1="574.1" x2="1971" y2="574.1" stroke="#000" stroke-width="1.4" />
<text x="187.5" y="582.6" font-size="28.7" font-family='"Liberation Serif", "Times New Roman", Times, serif' fill="#000" text-anchor="end" letter-spacing="1.2" >18</text>
<text x="2048.0" y="582.6" font-size="28.7" font-family='"Liberation Serif", "Times New Roman", Times, serif' fill="#000" text-anchor="end" letter-spacing="1.2" >18</text>
<line x1="219" y1="606.8" x2="229" y2="606.8" stroke="#000" stroke-width="1.4" />
<line x1="1961" y1="606.8" x2="1971" y2="606.8" stroke="#000" stroke-width="1.4" />
<text x="187.5" y="615.3" font-size="28.7" font-family='"Liberation Serif", "Times New Roman", Times, serif' fill="#000" text-anchor="end" letter-spacing="1.2" >14</text>
<text x="2048.0" y="615.3" font-size="28.7" font-family='"Liberation Serif", "Times New Roman", Times, serif' fill="#000" text-anchor="end" letter-spacing="1.2" >14</text>
<line x1="219" y1="639.5" x2="229" y2="639.5" stroke="#000" stroke-width="1.4" />
<line x1="1961" y1="639.5" x2="1971" y2="639.5" stroke="#000" stroke-width="1.4" />
<text x="187.5" y="648.0" font-size="28.7" font-family='"Liberation Serif", "Times New Roman", Times, serif' fill="#000" text-anchor="end" letter-spacing="1.2" >11</text>
<text x="2048.0" y="648.0" font-size="28.7" font-family='"Liberation Serif", "Times New Roman", Times, serif' fill="#000" text-anchor="end" letter-spacing="1.2" >11</text>
<line x1="219" y1="672.2" x2="229" y2="672.2" stroke="#000" stroke-width="1.4" />
<line x1="1961" y1="672.2" x2="1971" y2="672.2" stroke="#000" stroke-width="1.4" />
<text x="187.5" y="680.7" font-size="28.7" font-family='"Liberation Serif", "Times New Roman", Times, serif' fill="#000" text-anchor="end" letter-spacing="1.2" >9</text>
<text x="2048.0" y="680.7" font-size="28.7" font-family='"Liberation Serif", "Times New Roman", Times, serif' fill="#000" text-anchor="end" letter-spacing="1.2" >9</text>
<line x1="219" y1="704.9" x2="229" y2="704.9" stroke="#000" stroke-width="1.4" />
<line x1="1961" y1="704.9" x2="1971" y2="704.9" stroke="#000" stroke-width="1.4" />
<text x="187.5" y="713.4" font-size="28.7" font-family='"Liberation Serif", "Times New Roman", Times, serif' fill="#000" text-anchor="end" letter-spacing="1.2" >7</text>
<text x="2048.0" y="713.4" font-size="28.7" font-family='"Liberation Serif", "Times New Roman", Times, serif' fill="#000" text-anchor="end" letter-spacing="1.2" >7</text>
<line x1="219" y1="737.5" x2="229" y2="737.5" stroke="#000" stroke-width="1.4" />
<line x1="1961" y1="737.5" x2="1971" y2="737.5" stroke="#000" stroke-width="1.4" />
<text x="187.5" y="746.0" font-size="28.7" font-family='"Liberation Serif", "Times New Roman", Times, serif' fill="#000" text-anchor="end" letter-spacing="1.2" >6</text>
<text x="2048.0" y="746.0" font-size="28.7" font-family='"Liberation Serif", "Times New Roman", Times, serif' fill="#000" text-anchor="end" letter-spacing="1.2" >6</text>
<line x1="219" y1="770.2" x2="229" y2="770.2" stroke="#000" stroke-width="1.4" />
<line x1="1961" y1="770.2" x2="1971" y2="770.2" stroke="#000" stroke-width="1.4" />
<text x="187.5" y="778.7" font-size="28.7" font-family='"Liberation Serif", "Times New Roman", Times, serif' fill="#000" text-anchor="end" letter-spacing="1.2" >5</text>
<text x="2048.0" y="778.7" font-size="28.7" font-family='"Liberation Serif", "Times New Roman", Times, serif' fill="#000" text-anchor="end" letter-spacing="1.2" >5</text>
<line x1="219" y1="802.9" x2="229" y2="802.9" stroke="#000" stroke-width="1.4" />
<line x1="1961" y1="802.9" x2="1971" y2="802.9" stroke="#000" stroke-width="1.4" />
<text x="187.5" y="811.4" font-size="28.7" font-family='"Liberation Serif", "Times New Roman", Times, serif' fill="#000" text-anchor="end" letter-spacing="1.2" >4</text>
<text x="2048.0" y="811.4" font-size="28.7" font-family='"Liberation Serif", "Times New Roman", Times, serif' fill="#000" text-anchor="end" letter-spacing="1.2" >4</text>
<line x1="219" y1="835.6" x2="229" y2="835.6" stroke="#000" stroke-width="1.4" />
<line x1="1961" y1="835.6" x2="1971" y2="835.6" stroke="#000" stroke-width="1.4" />
<text x="187.5" y="844.1" font-size="28.7" font-family='"Liberation Serif", "Times New Roman", Times, serif' fill="#000" text-anchor="end" letter-spacing="1.2" >3</text>
<text x="2048.0" y="844.1" font-size="28.7" font-family='"Liberation Serif", "Times New Roman", Times, serif' fill="#000" text-anchor="end" letter-spacing="1.2" >3</text>
<line x1="219" y1="952.6" x2="229" y2="952.6" stroke="#000" stroke-width="1.4" />
<line x1="1961" y1="952.6" x2="1971" y2="952.6" stroke="#000" stroke-width="1.4" />
<text x="187.5" y="961.1" font-size="28.7" font-family='"Liberation Serif", "Times New Roman", Times, serif' fill="#000" text-anchor="end" letter-spacing="1.2" >380</text>
<text x="2048.0" y="961.1" font-size="28.7" font-family='"Liberation Serif", "Times New Roman", Times, serif' fill="#000" text-anchor="end" letter-spacing="1.2" >380</text>
<line x1="219" y1="986.8" x2="229" y2="986.8" stroke="#000" stroke-width="1.4" />
<line x1="1961" y1="986.8" x2="1971" y2="986.8" stroke="#000" stroke-width="1.4" />
<text x="187.5" y="995.3" font-size="28.7" font-family='"Liberation Serif", "Times New Roman", Times, serif' fill="#000" text-anchor="end" letter-spacing="1.2" >360</text>
<text x="2048.0" y="995.3" font-size="28.7" font-family='"Liberation Serif", "Times New Roman", Times, serif' fill="#000" text-anchor="end" letter-spacing="1.2" >360</text>
<line x1="219" y1="1021.0" x2="229" y2="1021.0" stroke="#000" stroke-width="1.4" />
<line x1="1961" y1="1021.0" x2="1971" y2="1021.0" stroke="#000" stroke-width="1.4" />
<text x="187.5" y="1029.5" font-size="28.7" font-family='"Liberation Serif", "Times New Roman", Times, serif' fill="#000" text-anchor="end" letter-spacing="1.2" >340</text>
<text x="2048.0" y="1029.5" font-size="28.7" font-family='"Liberation Serif", "Times New Roman", Times, serif' fill="#000" text-anchor="end" letter-spacing="1.2" >340</text>
<line x1="219" y1="1055.2" x2="229" y2="1055.2" stroke="#000" stroke-width="1.4" />
<line x1="1961" y1="1055.2" x2="1971" y2="1055.2" stroke="#000" stroke-width="1.4" />
<text x="187.5" y="1063.7" font-size="28.7" font-family='"Liberation Serif", "Times New Roman", Times, serif' fill="#000" text-anchor="end" letter-spacing="1.2" >320</text>
<text x="2048.0" y="1063.7" font-size="28.7" font-family='"Liberation Serif", "Times New Roman", Times, serif' fill="#000" text-anchor="end" letter-spacing="1.2" >320</text>
<line x1="219" y1="1089.4" x2="229" y2="1089.4" stroke="#000" stroke-width="1.4" />
<line x1="1961" y1="1089.4" x2="1971" y2="1089.4" stroke="#000" stroke-width="1.4" />
<text x="187.5" y="1097.9" font-size="28.7" font-family='"Liberation Serif", "Times New Roman", Times, serif' fill="#000" text-anchor="end" letter-spacing="1.2" >300</text>
<text x="2048.0" y="1097.9" font-size="28.7" font-family='"Liberation Serif", "Times New Roman", Times, serif' fill="#000" text-anchor="end" letter-spacing="1.2" >300</text>
<line x1="219" y1="1123.6" x2="229" y2="1123.6" stroke="#000" stroke-width="1.4" />
<line x1="1961" y1="1123.6" x2="1971" y2="1123.6" stroke="#000" stroke-width="1.4" />
<text x="187.5" y="1132.1" font-size="28.7" font-family='"Liberation Serif", "Times New Roman", Times, serif' fill="#000" text-anchor="end" letter-spacing="1.2" >280</text>
<text x="2048.0" y="1132.1" font-size="28.7" font-family='"Liberation Serif", "Times New Roman", Times, serif' fill="#000" text-anchor="end" letter-spacing="1.2" >280</text>
<line x1="219" y1="1157.8" x2="229" y2="1157.8" stroke="#000" stroke-width="1.4" />
<line x1="1961" y1="1157.8" x2="1971" y2="1157.8" stroke="#000" stroke-width="1.4" />
<text x="187.5" y="1166.3" font-size="28.7" font-family='"Liberation Serif", "Times New Roman", Times, serif' fill="#000" text-anchor="end" letter-spacing="1.2" >260</text>
<text x="2048.0" y="1166.3" font-size="28.7" font-family='"Liberation Serif", "Times New Roman", Times, serif' fill="#000" text-anchor="end" letter-spacing="1.2" >260</text>
<line x1="219" y1="1192.0" x2="229" y2="1192.0" stroke="#000" stroke-width="1.4" />
<line x1="1961" y1="1192.0" x2="1971" y2="1192.0" stroke="#000" stroke-width="1.4" />
<text x="187.5" y="1200.5" font-size="28.7" font-family='"Liberation Serif", "Times New Roman", Times, serif' fill="#000" text-anchor="end" letter-spacing="1.2" >240</text>
<text x="2048.0" y="1200.5" font-size="28.7" font-family='"Liberation Serif", "Times New Roman", Times, serif' fill="#000" text-anchor="end" letter-spacing="1.2" >240</text>
<line x1="219" y1="1226.2" x2="229" y2="1226.2" stroke="#000" stroke-width="1.4" />
<line x1="1961" y1="1226.2" x2="1971" y2="1226.2" stroke="#000" stroke-width="1.4" />
<text x="187.5" y="1234.7" font-size="28.7" font-family='"Liberation Serif", "Times New Roman", Times, serif' fill="#000" text-anchor="end" letter-spacing="1.2" >220</text>
<text x="2048.0" y="1234.7" font-size="28.7" font-family='"Liberation Serif", "Times New Roman", Times, serif' fill="#000" text-anchor="end" letter-spacing="1.2" >220</text>
<line x1="219" y1="1260.4" x2="229" y2="1260.4" stroke="#000" stroke-width="1.4" />
<line x1="1961" y1="1260.4" x2="1971" y2="1260.4" stroke="#000" stroke-width="1.4" />
<text x="187.5" y="1268.9" font-size="28.7" font-family='"Liberation Serif", "Times New Roman", Times, serif' fill="#000" text-anchor="end" letter-spacing="1.2" >200</text>
<text x="2048.0" y="1268.9" font-size="28.7" font-family='"Liberation Serif", "Times New Roman", Times, serif' fill="#000" text-anchor="end" letter-spacing="1.2" >200</text>
<line x1="219" y1="1294.6" x2="229" y2="1294.6" stroke="#000" stroke-width="1.4" />
<line x1="1961" y1="1294.6" x2="1971" y2="1294.6" stroke="#000" stroke-width="1.4" />
<text x="187.5" y="1303.1" font-size="28.7" font-family='"Liberation Serif", "Times New Roman", Times, serif' fill="#000" text-anchor="end" letter-spacing="1.2" >180</text>
<text x="2048.0" y="1303.1" font-size="28.7" font-family='"Liberation Serif", "Times New Roman", Times, serif' fill="#000" text-anchor="end" letter-spacing="1.2" >180</text>
<line x1="219" y1="1328.8" x2="229" y2="1328.8" stroke="#000" stroke-width="1.4" />
<line x1="1961" y1="1328.8" x2="1971" y2="1328.8" stroke="#000" stroke-width="1.4" />
<text x="187.5" y="1337.3" font-size="28.7" font-family='"Liberation Serif", "Times New Roman", Times, serif' fill="#000" text-anchor="end" letter-spacing="1.2" >160</text>
<text x="2048.0" y="1337.3" font-size="28.7" font-family='"Liberation Serif", "Times New Roman", Times, serif' fill="#000" text-anchor="end" letter-spacing="1.2" >160</text>
<line x1="219" y1="1363.0" x2="229" y2="1363.0" stroke="#000" stroke-width="1.4" />
<line x1="1961" y1="1363.0" x2="1971" y2="1363.0" stroke="#000" stroke-width="1.4" />
<text x="187.5" y="1371.5" font-size="28.7" font-family='"Liberation Serif", "Times New Roman", Times, serif' fill="#000" text-anchor="end" letter-spacing="1.2" >140</text>
<text x="2048.0" y="1371.5" font-size="28.7" font-family='"Liberation Serif", "Times New Roman", Times, serif' fill="#000" text-anchor="end" letter-spacing="1.2" >140</text>
<line x1="219" y1="1397.2" x2="229" y2="1397.2" stroke="#000" stroke-width="1.4" />
<line x1="1961" y1="1397.2" x2="1971" y2="1397.2" stroke="#000" stroke-width="1.4" />
<text x="187.5" y="1405.7" font-size="28.7" font-family='"Liberation Serif", "Times New Roman", Times, serif' fill="#000" text-anchor="end" letter-spacing="1.2" >120</text>
<text x="2048.0" y="1405.7" font-size="28.7" font-family='"Liberation Serif", "Times New Roman", Times, serif' fill="#000" text-anchor="end" letter-spacing="1.2" >120</text>
<line x1="219" y1="1431.4" x2="229" y2="1431.4" stroke="#000" stroke-width="1.4" />
<line x1="1961" y1="1431.4" x2="1971" y2="1431.4" stroke="#000" stroke-width="1.4" />
<text x="187.5" y="1439.9" font-size="28.7" font-family='"Liberation Serif", "Times New Roman", Times, serif' fill="#000" text-anchor="end" letter-spacing="1.2" >100</text>
<text x="2048.0" y="1439.9" font-size="28.7" font-family='"Liberation Serif", "Times New Roman", Times, serif' fill="#000" text-anchor="end" letter-spacing="1.2" >100</text>
<line x1="219" y1="1465.6" x2="229" y2="1465.6" stroke="#000" stroke-width="1.4" />
<line x1="1961" y1="1465.6" x2="1971" y2="1465.6" stroke="#000" stroke-width="1.4" />
<text x="187.5" y="1474.1" font-size="28.7" font-family='"Liberation Serif", "Times New Roman", Times, serif' fill="#000" text-anchor="end" letter-spacing="1.2" >80</text>
<text x="2048.0" y="1474.1" font-size="28.7" font-family='"Liberation Serif", "Times New Roman", Times, serif' fill="#000" text-anchor="end" letter-spacing="1.2" >80</text>
<line x1="219" y1="1499.8" x2="229" y2="1499.8" stroke="#000" stroke-width="1.4" />
<line x1="1961" y1="1499.8" x2="1971" y2="1499.8" stroke="#000" stroke-width="1.4" />
<text x="187.5" y="1508.3" font-size="28.7" font-family='"Liberation Serif", "Times New Roman", Times, serif' fill="#000" text-anchor="end" letter-spacing="1.2" >60</text>
<text x="2048.0" y="1508.3" font-size="28.7" font-family='"Liberation Serif", "Times New Roman", Times, serif' fill="#000" text-anchor="end" letter-spacing="1.2" >60</text>
<line x1="244.7" y1="856.8" x2="244.7" y2="862.8" stroke="#000" stroke-width="1.5" />
<line x1="269.4" y1="856.8" x2="269.4" y2="869.3" stroke="#000" stroke-width="1.5" />
<text x="269.2" y="899.2" font-size="24" font-family='"Liberation Serif", "Times New Roman", Times, serif' fill="#000" text-anchor="middle" letter-spacing="2.0" >1955</text>
<line x1="294.1" y1="856.8" x2="294.1" y2="862.8" stroke="#000" stroke-width="1.5" />
<line x1="318.9" y1="856.8" x2="318.9" y2="862.8" stroke="#000" stroke-width="1.5" />
<line x1="343.6" y1="856.8" x2="343.6" y2="862.8" stroke="#000" stroke-width="1.5" />
<line x1="368.3" y1="856.8" x2="368.3" y2="862.8" stroke="#000" stroke-width="1.5" />
<line x1="393.0" y1="856.8" x2="393.0" y2="869.3" stroke="#000" stroke-width="1.5" />
<text x="392.8" y="899.2" font-size="24" font-family='"Liberation Serif", "Times New Roman", Times, serif' fill="#000" text-anchor="middle" letter-spacing="2.0" >1960</text>
<line x1="417.8" y1="856.8" x2="417.8" y2="862.8" stroke="#000" stroke-width="1.5" />
<line x1="442.5" y1="856.8" x2="442.5" y2="862.8" stroke="#000" stroke-width="1.5" />
<line x1="467.2" y1="856.8" x2="467.2" y2="862.8" stroke="#000" stroke-width="1.5" />
<line x1="492.0" y1="856.8" x2="492.0" y2="862.8" stroke="#000" stroke-width="1.5" />
<line x1="516.7" y1="856.8" x2="516.7" y2="869.3" stroke="#000" stroke-width="1.5" />
<text x="516.5" y="899.2" font-size="24" font-family='"Liberation Serif", "Times New Roman", Times, serif' fill="#000" text-anchor="middle" letter-spacing="2.0" >1965</text>
<line x1="541.4" y1="856.8" x2="541.4" y2="862.8" stroke="#000" stroke-width="1.5" />
<line x1="566.2" y1="856.8" x2="566.2" y2="862.8" stroke="#000" stroke-width="1.5" />
<line x1="590.9" y1="856.8" x2="590.9" y2="862.8" stroke="#000" stroke-width="1.5" />
<line x1="615.6" y1="856.8" x2="615.6" y2="862.8" stroke="#000" stroke-width="1.5" />
<line x1="640.3" y1="856.8" x2="640.3" y2="869.3" stroke="#000" stroke-width="1.5" />
<text x="640.0999999999999" y="899.2" font-size="24" font-family='"Liberation Serif", "Times New Roman", Times, serif' fill="#000" text-anchor="middle" letter-spacing="2.0" >1970</text>
<line x1="665.1" y1="856.8" x2="665.1" y2="862.8" stroke="#000" stroke-width="1.5" />
<line x1="689.8" y1="856.8" x2="689.8" y2="862.8" stroke="#000" stroke-width="1.5" />
<line x1="714.5" y1="856.8" x2="714.5" y2="862.8" stroke="#000" stroke-width="1.5" />
<line x1="739.3" y1="856.8" x2="739.3" y2="862.8" stroke="#000" stroke-width="1.5" />
<line x1="764.0" y1="856.8" x2="764.0" y2="869.3" stroke="#000" stroke-width="1.5" />
<text x="763.8" y="899.2" font-size="24" font-family='"Liberation Serif", "Times New Roman", Times, serif' fill="#000" text-anchor="middle" letter-spacing="2.0" >1975</text>
<line x1="788.7" y1="856.8" x2="788.7" y2="862.8" stroke="#000" stroke-width="1.5" />
<line x1="813.5" y1="856.8" x2="813.5" y2="862.8" stroke="#000" stroke-width="1.5" />
<line x1="838.2" y1="856.8" x2="838.2" y2="862.8" stroke="#000" stroke-width="1.5" />
<line x1="862.9" y1="856.8" x2="862.9" y2="862.8" stroke="#000" stroke-width="1.5" />
<line x1="887.6" y1="856.8" x2="887.6" y2="869.3" stroke="#000" stroke-width="1.5" />
<text x="887.4" y="899.2" font-size="24" font-family='"Liberation Serif", "Times New Roman", Times, serif' fill="#000" text-anchor="middle" letter-spacing="2.0" >1980</text>
<line x1="912.4" y1="856.8" x2="912.4" y2="862.8" stroke="#000" stroke-width="1.5" />
<line x1="937.1" y1="856.8" x2="937.1" y2="862.8" stroke="#000" stroke-width="1.5" />
<line x1="961.8" y1="856.8" x2="961.8" y2="862.8" stroke="#000" stroke-width="1.5" />
<line x1="986.6" y1="856.8" x2="986.6" y2="862.8" stroke="#000" stroke-width="1.5" />
<line x1="1011.3" y1="856.8" x2="1011.3" y2="869.3" stroke="#000" stroke-width="1.5" />
<text x="1011.0999999999999" y="899.2" font-size="24" font-family='"Liberation Serif", "Times New Roman", Times, serif' fill="#000" text-anchor="middle" letter-spacing="2.0" >1985</text>
<line x1="1036.0" y1="856.8" x2="1036.0" y2="862.8" stroke="#000" stroke-width="1.5" />
<line x1="1060.8" y1="856.8" x2="1060.8" y2="862.8" stroke="#000" stroke-width="1.5" />
<line x1="1085.5" y1="856.8" x2="1085.5" y2="862.8" stroke="#000" stroke-width="1.5" />
<line x1="1110.2" y1="856.8" x2="1110.2" y2="862.8" stroke="#000" stroke-width="1.5" />
<line x1="1135.0" y1="856.8" x2="1135.0" y2="869.3" stroke="#000" stroke-width="1.5" />
<text x="1134.8" y="899.2" font-size="24" font-family='"Liberation Serif", "Times New Roman", Times, serif' fill="#000" text-anchor="middle" letter-spacing="2.0" >1990</text>
<line x1="1159.7" y1="856.8" x2="1159.7" y2="862.8" stroke="#000" stroke-width="1.5" />
<line x1="1184.4" y1="856.8" x2="1184.4" y2="862.8" stroke="#000" stroke-width="1.5" />
<line x1="1209.1" y1="856.8" x2="1209.1" y2="862.8" stroke="#000" stroke-width="1.5" />
<line x1="1233.9" y1="856.8" x2="1233.9" y2="862.8" stroke="#000" stroke-width="1.5" />
<line x1="1258.6" y1="856.8" x2="1258.6" y2="869.3" stroke="#000" stroke-width="1.5" />
<text x="1258.3999999999999" y="899.2" font-size="24" font-family='"Liberation Serif", "Times New Roman", Times, serif' fill="#000" text-anchor="middle" letter-spacing="2.0" >1995</text>
<line x1="1283.3" y1="856.8" x2="1283.3" y2="862.8" stroke="#000" stroke-width="1.5" />
<line x1="1308.1" y1="856.8" x2="1308.1" y2="862.8" stroke="#000" stroke-width="1.5" />
<line x1="1332.8" y1="856.8" x2="1332.8" y2="862.8" stroke="#000" stroke-width="1.5" />
<line x1="1357.5" y1="856.8" x2="1357.5" y2="862.8" stroke="#000" stroke-width="1.5" />
<line x1="1382.2" y1="856.8" x2="1382.2" y2="869.3" stroke="#000" stroke-width="1.5" />
<text x="1382.0" y="899.2" font-size="24" font-family='"Liberation Serif", "Times New Roman", Times, serif' fill="#000" text-anchor="middle" letter-spacing="2.0" >2000</text>
<line x1="1407.0" y1="856.8" x2="1407.0" y2="862.8" stroke="#000" stroke-width="1.5" />
<line x1="1431.7" y1="856.8" x2="1431.7" y2="862.8" stroke="#000" stroke-width="1.5" />
<line x1="1456.4" y1="856.8" x2="1456.4" y2="862.8" stroke="#000" stroke-width="1.5" />
<line x1="1481.2" y1="856.8" x2="1481.2" y2="862.8" stroke="#000" stroke-width="1.5" />
<line x1="1505.9" y1="856.8" x2="1505.9" y2="869.3" stroke="#000" stroke-width="1.5" />
<text x="1505.7" y="899.2" font-size="24" font-family='"Liberation Serif", "Times New Roman", Times, serif' fill="#000" text-anchor="middle" letter-spacing="2.0" >2005</text>
<line x1="1530.6" y1="856.8" x2="1530.6" y2="862.8" stroke="#000" stroke-width="1.5" />
<line x1="1555.4" y1="856.8" x2="1555.4" y2="862.8" stroke="#000" stroke-width="1.5" />
<line x1="1580.1" y1="856.8" x2="1580.1" y2="862.8" stroke="#000" stroke-width="1.5" />
<line x1="1604.8" y1="856.8" x2="1604.8" y2="862.8" stroke="#000" stroke-width="1.5" />
<line x1="1629.6" y1="856.8" x2="1629.6" y2="869.3" stroke="#000" stroke-width="1.5" />
<text x="1629.3999999999999" y="899.2" font-size="24" font-family='"Liberation Serif", "Times New Roman", Times, serif' fill="#000" text-anchor="middle" letter-spacing="2.0" >2010</text>
<line x1="1654.3" y1="856.8" x2="1654.3" y2="862.8" stroke="#000" stroke-width="1.5" />
<line x1="1679.0" y1="856.8" x2="1679.0" y2="862.8" stroke="#000" stroke-width="1.5" />
<line x1="1703.7" y1="856.8" x2="1703.7" y2="862.8" stroke="#000" stroke-width="1.5" />
<line x1="1728.5" y1="856.8" x2="1728.5" y2="862.8" stroke="#000" stroke-width="1.5" />
<line x1="1753.2" y1="856.8" x2="1753.2" y2="869.3" stroke="#000" stroke-width="1.5" />
<text x="1753.0" y="899.2" font-size="24" font-family='"Liberation Serif", "Times New Roman", Times, serif' fill="#000" text-anchor="middle" letter-spacing="2.0" >2015</text>
<line x1="1777.9" y1="856.8" x2="1777.9" y2="862.8" stroke="#000" stroke-width="1.5" />
<line x1="1802.7" y1="856.8" x2="1802.7" y2="862.8" stroke="#000" stroke-width="1.5" />
<line x1="1827.4" y1="856.8" x2="1827.4" y2="862.8" stroke="#000" stroke-width="1.5" />
<line x1="1852.1" y1="856.8" x2="1852.1" y2="862.8" stroke="#000" stroke-width="1.5" />
<line x1="1876.8" y1="856.8" x2="1876.8" y2="869.3" stroke="#000" stroke-width="1.5" />
<text x="1876.6" y="899.2" font-size="24" font-family='"Liberation Serif", "Times New Roman", Times, serif' fill="#000" text-anchor="middle" letter-spacing="2.0" >2020</text>
<line x1="1901.6" y1="856.8" x2="1901.6" y2="862.8" stroke="#000" stroke-width="1.5" />
<line x1="1926.3" y1="856.8" x2="1926.3" y2="862.8" stroke="#000" stroke-width="1.5" />
<text x="248.3" y="215.2" font-size="35" font-family='"Liberation Sans", Arial, Helvetica, sans-serif' fill="#000" textLength="584.6" lengthAdjust="spacing" >S&amp;P 500 GAAP Earnings Per Share</text>
<text x="1453.6" y="186.6" font-size="24.5" font-family='"Liberation Serif", "Times New Roman", Times, serif' fill="#000" textLength="523.4" lengthAdjust="spacing" font-style="italic" >Monthly 1/31/1954 - 10/31/2022 (Log Scale)</text>
<text x="247.3" y="1593.3" font-size="35" font-family='"Liberation Sans", Arial, Helvetica, sans-serif' fill="#000" textLength="1179.6" lengthAdjust="spacing" >Moody's Baa Minus Aaa Yield Spread, 3/60 Month Deviation From Trend</text>
<text x="123.4" y="1591.7" font-size="18" font-family='"Liberation Serif", "Times New Roman", Times, serif' fill="#0000ff" textLength="67.6" lengthAdjust="spacing" >(S0692)</text>
<line x1="123.4" y1="1595.4" x2="191" y2="1595.4" stroke="#0000ff" stroke-width="1.2" />
<text x="266.7" y="1534.2" font-size="24.5" font-family='"Liberation Sans", Arial, Helvetica, sans-serif' fill="#000" textLength="431" lengthAdjust="spacing" font-style="italic" >Moody's Source: Federal Reserve Board</text>
<text x="718" y="816.9" font-size="24.5" font-family='"Liberation Sans", Arial, Helvetica, sans-serif' fill="#0000ff" textLength="417.4" lengthAdjust="spacing" font-style="italic" >EPS data reported quarterly by S&amp;P</text>
<text x="1244" y="813.9" font-size="25.5" font-family='"Liberation Sans", Arial, Helvetica, sans-serif' fill="#0000ff" textLength="665" lengthAdjust="spacing" >Latest Final Reported 4Q EPS (6/30/2022) = $192.26</text>
<text x="843.8" y="984" font-size="25.5" font-family='"Liberation Sans", Arial, Helvetica, sans-serif' fill="#ff0000" textLength="502.4" lengthAdjust="spacing" >Moody's Average Baa Bond Yield Minus</text>
<text x="882" y="1015.3" font-size="25.5" font-family='"Liberation Sans", Arial, Helvetica, sans-serif' fill="#ff0000" textLength="428.8" lengthAdjust="spacing" >Moody's Average Aaa Bond Yield:</text>
<text x="802.8" y="1047" font-size="25.5" font-family='"Liberation Sans", Arial, Helvetica, sans-serif' fill="#ff0000" textLength="588" lengthAdjust="spacing" >Three-Month Smoothing / 60-Month Smoothing</text>
<text x="1700.6" y="947.6" font-size="25.5" font-family='"Liberation Sans", Arial, Helvetica, sans-serif' fill="#ff0000" textLength="242.4" lengthAdjust="spacing" >10/31/2022 = 114.5</text>
<text x="1103" y="329.5" font-size="35" font-family='"Liberation Sans", Arial, sans-serif' fill="#000" text-anchor="middle" textLength="336" lengthAdjust="spacing" font-weight="bold" >Wider credit spreads</text>
<text x="1103.3" y="375.2" font-size="35" font-family='"Liberation Sans", Arial, sans-serif' fill="#000" text-anchor="middle" textLength="276" lengthAdjust="spacing" font-weight="bold" >are bad for stock</text>
<text x="1103.2" y="421.2" font-size="35" font-family='"Liberation Sans", Arial, sans-serif' fill="#000" text-anchor="middle" textLength="264.5" lengthAdjust="spacing" font-weight="bold" >market earnings</text>
<polygon points="832.1,361.7 882.9,344.3 882.9,353.3 933.8,353.3 933.8,370.5 882.9,370.5 882.9,379.5" fill="#000"/>
<rect x="248.4" y="237.4" width="570.9" height="225.29999999999998" fill="#fff"/>
<defs><pattern id="dots" width="2" height="2" patternUnits="userSpaceOnUse"><rect width="2" height="2" fill="#e4e4e4"/><rect width="1" height="1" fill="#dcdcdc"/></pattern></defs>
<rect x="248.4" y="348.6" width="570.9" height="35.099999999999966" fill="url(#dots)"/>
<rect x="248.4" y="237.4" width="570.9" height="225.29999999999998" fill="none" stroke="#000" stroke-width="1.5"/>
<line x1="248.4" y1="283.9" x2="819.3" y2="283.9" stroke="#000" stroke-width="1.5" />
<line x1="248.4" y1="348.6" x2="819.3" y2="348.6" stroke="#000" stroke-width="1.5" />
<line x1="248.4" y1="383.7" x2="819.3" y2="383.7" stroke="#000" stroke-width="1.5" />
<line x1="248.4" y1="419.2" x2="819.3" y2="419.2" stroke="#000" stroke-width="1.5" />
<line x1="539.1" y1="283.9" x2="539.1" y2="462.7" stroke="#000" stroke-width="1.5" />
<line x1="675.4" y1="283.9" x2="675.4" y2="462.7" stroke="#000" stroke-width="1.5" />
<text x="389.8" y="268.8" font-size="21" font-family='"Liberation Sans", Arial, Helvetica, sans-serif' fill="#000" textLength="293" lengthAdjust="spacing" >S&amp;P 500 Earnings Per Share:</text>
<text x="271" y="340.1" font-size="21" font-family='"Liberation Sans", Arial, Helvetica, sans-serif' fill="#000" letter-spacing="0.42" >Indicator is:</text>
<text x="606.8" y="315.7" font-size="21" font-family='"Liberation Sans", Arial, Helvetica, sans-serif' fill="#000" text-anchor="middle" letter-spacing="0.8" >Gain/</text>
<text x="606.8" y="340.1" font-size="21" font-family='"Liberation Sans", Arial, Helvetica, sans-serif' fill="#000" text-anchor="middle" letter-spacing="0.8" >Annum</text>
<text x="742.5" y="315.7" font-size="21" font-family='"Liberation Sans", Arial, Helvetica, sans-serif' fill="#000" text-anchor="middle" >%</text>
<text x="743.5" y="340.1" font-size="21" font-family='"Liberation Sans", Arial, Helvetica, sans-serif' fill="#000" text-anchor="middle" letter-spacing="0.8" >of Time</text>
<text x="272" y="375.3" font-size="21" font-family='"Liberation Sans", Arial, Helvetica, sans-serif' fill="#000" letter-spacing="0.55" >* Above 110</text>
<text x="632.5" y="375.3" font-size="21" font-family='"Liberation Sans", Arial, Helvetica, sans-serif' fill="#000" text-anchor="end" letter-spacing="1.2" >-11.6</text>
<text x="769.3" y="375.3" font-size="21" font-family='"Liberation Sans", Arial, Helvetica, sans-serif' fill="#000" text-anchor="end" letter-spacing="1.2" >30.7</text>
<text x="285.4" y="410.9" font-size="21" font-family='"Liberation Sans", Arial, Helvetica, sans-serif' fill="#000" letter-spacing="0.55" >Between 90 and 110</text>
<text x="632.5" y="410.9" font-size="21" font-family='"Liberation Sans", Arial, Helvetica, sans-serif' fill="#000" text-anchor="end" letter-spacing="1.2" >6.4</text>
<text x="769.3" y="410.9" font-size="21" font-family='"Liberation Sans", Arial, Helvetica, sans-serif' fill="#000" text-anchor="end" letter-spacing="1.2" >22.6</text>
<text x="285.4" y="446.8" font-size="21" font-family='"Liberation Sans", Arial, Helvetica, sans-serif' fill="#000" letter-spacing="0.55" >90 and Below</text>
<text x="632.5" y="446.8" font-size="21" font-family='"Liberation Sans", Arial, Helvetica, sans-serif' fill="#000" text-anchor="end" letter-spacing="1.2" >20.5</text>
<text x="769.3" y="446.8" font-size="21" font-family='"Liberation Sans", Arial, Helvetica, sans-serif' fill="#000" text-anchor="end" letter-spacing="1.2" >46.7</text>
<text x="2080.6" y="1629" font-size="22" font-family='"Liberation Sans", Arial, Helvetica, sans-serif' text-anchor="end" textLength="1195.7" lengthAdjust="spacing" xml:space="preserve">© Copyright 2022 Ned Davis Research, Inc.  Further distribution prohibited without prior permission.  All Rights Reserved.</text>
<text x="938.6" y="1654.2" font-size="22" font-family='"Liberation Sans", Arial, Helvetica, sans-serif' fill="#000" textLength="228" lengthAdjust="spacing" >See NDR Disclaimer at</text>
<text x="1173.4" y="1654.2" font-size="22" font-family='"Liberation Sans", Arial, Helvetica, sans-serif' fill="#0000ff" textLength="280" lengthAdjust="spacing" >www.ndr.com/copyright.html</text>
<text x="1454.3" y="1654.2" font-size="22" font-family='"Liberation Sans", Arial, Helvetica, sans-serif' fill="#000" textLength="361.5" lengthAdjust="spacing" >. For data vendor disclaimers refer to</text>
<text x="1821.6" y="1654.2" font-size="22" font-family='"Liberation Sans", Arial, Helvetica, sans-serif' fill="#0000ff" textLength="251.8" lengthAdjust="spacing" >www.ndr.com/vendorinfo/</text>
<text x="2074.6" y="1654.2" font-size="22" font-family='"Liberation Sans", Arial, Helvetica, sans-serif' fill="#000" >.</text>
<line x1="1174.1" y1="1661" x2="1452.8" y2="1661" stroke="#0000ff" stroke-width="1.4" />
<line x1="1822.3" y1="1661" x2="2072.9" y2="1661" stroke="#0000ff" stroke-width="1.4" />
</svg>
</body></html>
